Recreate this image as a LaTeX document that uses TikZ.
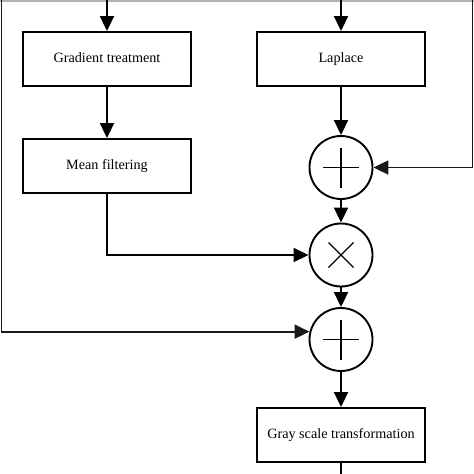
\documentclass[tikz,border=0pt]{standalone}
\usepackage{fontspec}
\setmainfont{Liberation Serif}
\usetikzlibrary{arrows.meta}
\begin{document}
\begin{tikzpicture}[x=1pt,y=-1pt,
  box/.style={draw,line width=1.9pt,minimum width=168pt,minimum height=54pt,inner sep=0pt,text height=9pt,text depth=3pt,font=\fontsize{14.2}{16}\selectfont},
  op/.style={draw,circle,line width=1.9pt,minimum size=63pt,inner sep=0pt},
  conn/.style={line width=1.9pt,-{Triangle[width=14pt,length=15pt]}},
  plain/.style={line width=1.9pt}]
\useasboundingbox (0,0) rectangle (474,474);
\draw[gray!60,line width=1.5pt] (0,0.75) -- (474,0.75);
\node[box] (grad) at (107,59) {Gradient treatment};
\node[box] (lap) at (341,59) {Laplace};
\node[box] (mean) at (107,166) {Mean filtering};
\node[op] (p1) at (341,167.5) {};
\node[op] (tm) at (341,255) {};
\node[op] (p2) at (341,339.5) {};
\node[box] (gray) at (341,435) {Gray scale transformation};
% symbols
\draw[line width=1.3pt] ([xshift=-18pt]p1.center) -- ([xshift=18pt]p1.center)
  ([yshift=-20pt]p1.center) -- ([yshift=20pt]p1.center);
\draw[line width=1.3pt] ([xshift=-18pt]p2.center) -- ([xshift=18pt]p2.center)
  ([yshift=-20pt]p2.center) -- ([yshift=20pt]p2.center);
\draw[line width=1.3pt] ([shift={(-12.5,-12.5)}]tm.center) -- ([shift={(12.5,12.5)}]tm.center)
  ([shift={(-12.5,12.5)}]tm.center) -- ([shift={(12.5,-12.5)}]tm.center);
% inputs from top
\coordinate (tg) at (107,0);
\coordinate (tl) at (341,0);
\coordinate (tr) at (472.5,0);
\coordinate (tleft) at (1.5,0);
\coordinate (bot) at (341,474);
\draw[conn] (tg) -- (grad.north);
\draw[conn] (tl) -- (lap.north);
\draw[conn] (grad) -- (mean);
\draw[conn] (lap.south) -- (p1.north);
\draw[conn,gray!20!black] (tr) |- (p1.east);
\draw[conn] (p1.south) -- (tm.north);
\draw[conn] (mean.south) |- (tm.west);
\draw[conn] (tm.south) -- (p2.north);
\draw[conn,gray!20!black] (tleft) |- (p2.166);
\draw[conn] (p2.south) -- (gray.north);
\draw[plain] (gray.south) -- (bot);
\end{tikzpicture}
\end{document}
